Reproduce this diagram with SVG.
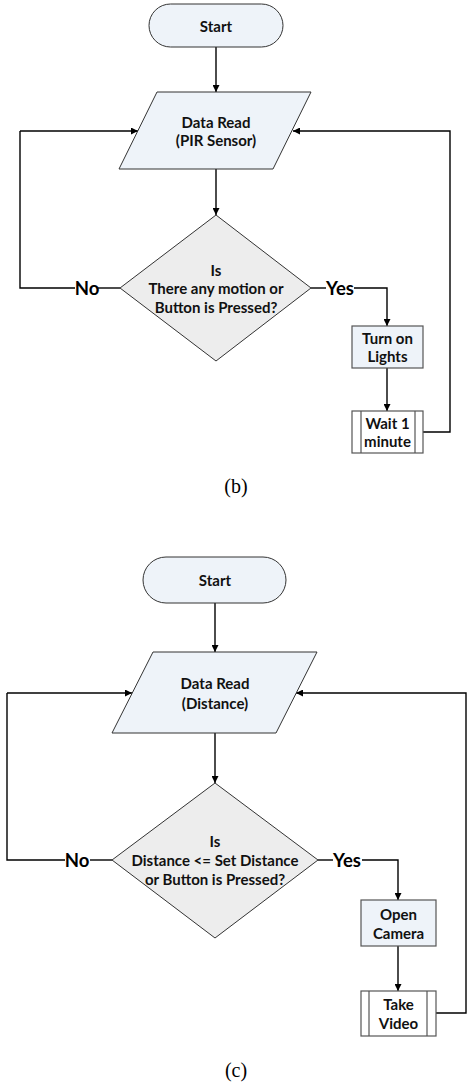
<svg xmlns="http://www.w3.org/2000/svg" width="474" height="1087" viewBox="0 0 474 1087">
<defs>
<marker id="ah" viewBox="0 0 10 10" refX="10" refY="5" markerWidth="7" markerHeight="7" markerUnits="userSpaceOnUse" orient="auto">
<path d="M0,0 L10,5 L0,10 z" fill="#000"/>
</marker>
<style>
.conn{fill:none;stroke:#000;stroke-width:1.4}
.arr{marker-end:url(#ah)}
.term{fill:#eef3f9;stroke:#333;stroke-width:1}
.io{fill:#eef3f9;stroke:#333;stroke-width:1}
.dec{fill:#ededed;stroke:#333;stroke-width:1}
.proc{fill:#eef3f9;stroke:#555;stroke-width:1.2}
.sub{fill:#fff;stroke:#555;stroke-width:1.2}
.t{font-family:Lato,"Open Sans",sans-serif;font-weight:bold;font-size:15px;fill:#111;text-anchor:middle;dominant-baseline:central}
.lbl{font-family:Lato,"Open Sans",sans-serif;font-weight:bold;font-size:18.5px;fill:#000;text-anchor:middle;dominant-baseline:central}
.cap{font-family:"Liberation Serif",serif;font-size:20px;fill:#000;text-anchor:middle;dominant-baseline:central}
</style>
</defs>
<rect width="474" height="1087" fill="#fff"/>

<g id="connectors">
<!-- (b) -->
<line class="conn arr" x1="216" y1="47" x2="216" y2="92"/>
<line class="conn arr" x1="216" y1="169" x2="216" y2="215"/>
<polyline class="conn" points="75,288 20,288 20,131"/>
<line class="conn arr" x1="20" y1="131" x2="138" y2="131"/>
<line class="conn" x1="98" y1="288" x2="120" y2="288"/>
<line class="conn" x1="311" y1="288" x2="326" y2="288"/>
<polyline class="conn arr" points="354,288 387,288 387,326"/>
<line class="conn arr" x1="387" y1="368" x2="387" y2="411"/>
<polyline class="conn arr" points="423,432 450,432 450,131 293,131"/>
<!-- (c) -->
<line class="conn arr" x1="215" y1="603" x2="215" y2="652"/>
<line class="conn arr" x1="215" y1="733" x2="215" y2="783"/>
<polyline class="conn" points="65,860 7,860 7,693"/>
<line class="conn arr" x1="7" y1="693" x2="132" y2="693"/>
<line class="conn" x1="90" y1="860" x2="112" y2="860"/>
<line class="conn" x1="318" y1="860" x2="333" y2="860"/>
<polyline class="conn arr" points="362,860 398,860 398,900"/>
<line class="conn arr" x1="398" y1="946" x2="398" y2="991"/>
<polyline class="conn arr" points="436,1013 466,1013 466,693 296,693"/>
</g>

<g id="b-start">
<rect class="term" x="149" y="4" width="134" height="43" rx="21.5" ry="21.5"/>
<text class="t" x="216" y="26">Start</text>
</g>
<g id="b-read">
<polygon class="io" points="157,92 311,92 273,169 119,169"/>
<text class="t" x="216" y="122">Data Read</text>
<text class="t" x="216" y="140">(PIR Sensor)</text>
</g>
<g id="b-decision">
<polygon class="dec" points="216,215 311,288 216,361 120,288"/>
<text class="t" x="216" y="270">Is</text>
<text class="t" x="216" y="288">There any motion or</text>
<text class="t" x="216" y="307">Button is Pressed?</text>
</g>
<g id="b-no"><text class="lbl" x="87" y="288">No</text></g>
<g id="b-yes"><text class="lbl" x="340" y="288">Yes</text></g>
<g id="b-lights">
<rect class="proc" x="352" y="326" width="71" height="42"/>
<text class="t" x="387.5" y="338">Turn on</text>
<text class="t" x="387.5" y="356">Lights</text>
</g>
<g id="b-wait">
<rect class="sub" x="352" y="411" width="71" height="42"/>
<line class="sub" x1="361" y1="411" x2="361" y2="453"/>
<line class="sub" x1="415" y1="411" x2="415" y2="453"/>
<text class="t" x="387.5" y="423">Wait 1</text>
<text class="t" x="387.5" y="441">minute</text>
</g>
<g id="b-caption"><text class="cap" x="236" y="486">(b)</text></g>

<g id="c-start">
<rect class="term" x="143" y="557" width="143" height="46" rx="23" ry="23"/>
<text class="t" x="215" y="580">Start</text>
</g>
<g id="c-read">
<polygon class="io" points="153,652 317,652 276,733 112,733"/>
<text class="t" x="215" y="683">Data Read</text>
<text class="t" x="215" y="703">(Distance)</text>
</g>
<g id="c-decision">
<polygon class="dec" points="215,783 318,860 215,938 112,860"/>
<text class="t" x="215" y="841">Is</text>
<text class="t" x="215" y="860">Distance &lt;= Set Distance</text>
<text class="t" x="215" y="879">or Button is Pressed?</text>
</g>
<g id="c-no"><text class="lbl" x="77" y="860">No</text></g>
<g id="c-yes"><text class="lbl" x="347" y="860">Yes</text></g>
<g id="c-camera">
<rect class="proc" x="361" y="900" width="75" height="46"/>
<text class="t" x="398.5" y="914">Open</text>
<text class="t" x="398.5" y="933">Camera</text>
</g>
<g id="c-video">
<rect class="sub" x="361" y="991" width="75" height="45"/>
<line class="sub" x1="369" y1="991" x2="369" y2="1036"/>
<line class="sub" x1="427" y1="991" x2="427" y2="1036"/>
<text class="t" x="398.5" y="1004">Take</text>
<text class="t" x="398.5" y="1023">Video</text>
</g>
<g id="c-caption"><text class="cap" x="236" y="1070">(c)</text></g>
</svg>
